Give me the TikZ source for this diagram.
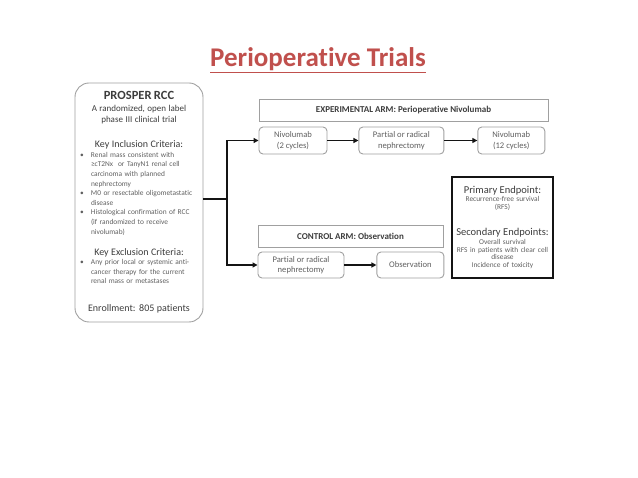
\documentclass[tikz,border=0pt]{standalone}
\usepackage{fontspec}
\setmainfont{Carlito}[Ligatures={NoCommon,TeX}]
\usetikzlibrary{positioning,arrows.meta}
\definecolor{cTitle}{RGB}{192,80,77}
\definecolor{cHead}{RGB}{60,60,60}
\definecolor{cText}{RGB}{95,95,95}
\definecolor{cFrame}{RGB}{160,160,160}
\definecolor{cEdge}{RGB}{20,20,20}
\newcommand{\critem}[1]{\par\hangindent=11pt\hangafter=1\noindent\hbox to 11pt{\textbullet\hss}#1\par}
\newcommand{\bigline}[1]{{\centering\fontsize{10}{11}\selectfont\color{cHead}#1\par}}
\tikzset{
  trialbox/.style={
    rectangle, rounded corners=14pt, draw=cFrame, line width=0.9pt,
    align=left, text=cText, font=\fontsize{7.4}{9.6}\selectfont,
    text width=118pt, inner xsep=5pt, inner ysep=0pt,
    minimum width=128pt, minimum height=239pt,
  },
  armhead/.style={
    rectangle, draw=cFrame, line width=0.9pt,
    align=center, text=cHead, font=\fontsize{9}{10}\selectfont\bfseries,
    inner sep=0pt, minimum height=22pt,
  },
  stepbox/.style={
    rectangle, rounded corners=4pt, draw=cFrame, line width=0.9pt,
    align=center, text=cText, font=\fontsize{8.6}{10.5}\selectfont,
    inner sep=1pt, minimum height=27pt,
  },
  endbox/.style={
    rectangle, draw=cEdge, line width=1.3pt,
    align=center, text=cText, font=\fontsize{7.4}{7.6}\selectfont,
    text width=99pt, inner sep=1pt,
    minimum width=101pt, minimum height=101pt,
  },
  arr/.style={-{Triangle[length=5pt,width=5pt]}, line width=1.5pt, draw=cEdge},
}

\begin{document}
\begin{tikzpicture}[x=1pt, y=-1pt, node distance=31pt]
\useasboundingbox (0,0) rectangle (638,478);

\node[anchor=base, text=cTitle, font=\fontsize{27}{30}\selectfont\bfseries] (title)
  at (318,67) {\underline{Perioperative Trials}};

\node[trialbox] (prosper) at (139,202.5) {%
  {\centering\fontsize{12.5}{13}\selectfont\bfseries\color{cHead}PROSPER RCC\par}
  {\centering\fontsize{9}{11.5}\selectfont\color{cHead}A randomized, open label\\ phase III clinical trial\par}
  \vskip 14pt
  \bigline{Key Inclusion Criteria:}
  \critem{Renal mass consistent with\newline ≥cT2Nx\ \ or TanyN1 renal cell\newline carcinoma with planned\newline nephrectomy}
  \critem{M0 or resectable oligometastatic\newline disease}
  \critem{Histological confirmation of RCC\newline (if randomized to receive\newline nivolumab)}
  \vskip 10pt
  \bigline{Key Exclusion Criteria:}
  \critem{Any prior local or systemic anti-\newline cancer therapy for the current\newline renal mass or metastases}
  \vskip 17pt
  {\centering\fontsize{10}{11}\selectfont\color{cHead}Enrollment: 805 patients\par}
};

\node[armhead, minimum width=289pt] (exphead) at (403.5,110.5)
  {EXPERIMENTAL ARM: Perioperative Nivolumab};

\node[stepbox, minimum width=68pt] (nivo2) at (293,140.5) {Nivolumab\\ (2 cycles)};
\node[stepbox, minimum width=85pt, right=of nivo2] (partx) {Partial or radical\\ nephrectomy};
\node[stepbox, minimum width=67pt, right=33pt of partx] (nivo12) {Nivolumab\\ (12 cycles)};

\node[armhead, minimum width=185pt] (conhead) at (350.5,236)
  {CONTROL ARM: Observation};

\node[stepbox, minimum width=86pt, minimum height=26pt] (partc) at (301,265)
  {Partial or radical\\ nephrectomy};
\node[stepbox, minimum width=67pt, minimum height=26pt, right=32pt of partc] (obs)
  {Observation};

\node[endbox] (endpts) at (502.5,227.5) {%
  {\fontsize{10.5}{11}\selectfont\color{cHead}Primary Endpoint:}\\[0.5pt]
  Recurrence-free survival\\
  (RFS)\\[17pt]
  {\fontsize{10.5}{11}\selectfont\color{cHead}Secondary Endpoints:}\\[1.5pt]
  Overall survival\\
  RFS in patients with clear cell\\
  disease\\
  Incidence of toxicity};

\coordinate (split) at (227,199);
\draw[line width=1.5pt, draw=cEdge] (prosper.east |- split) -- (split);
\draw[arr] (split) |- (nivo2.west);
\draw[arr] (split) |- (partc.west);
\draw[arr] (nivo2) -- (partx);
\draw[arr] (partx) -- (nivo12);
\draw[arr] (partc) -- (obs);

\end{tikzpicture}
\end{document}
